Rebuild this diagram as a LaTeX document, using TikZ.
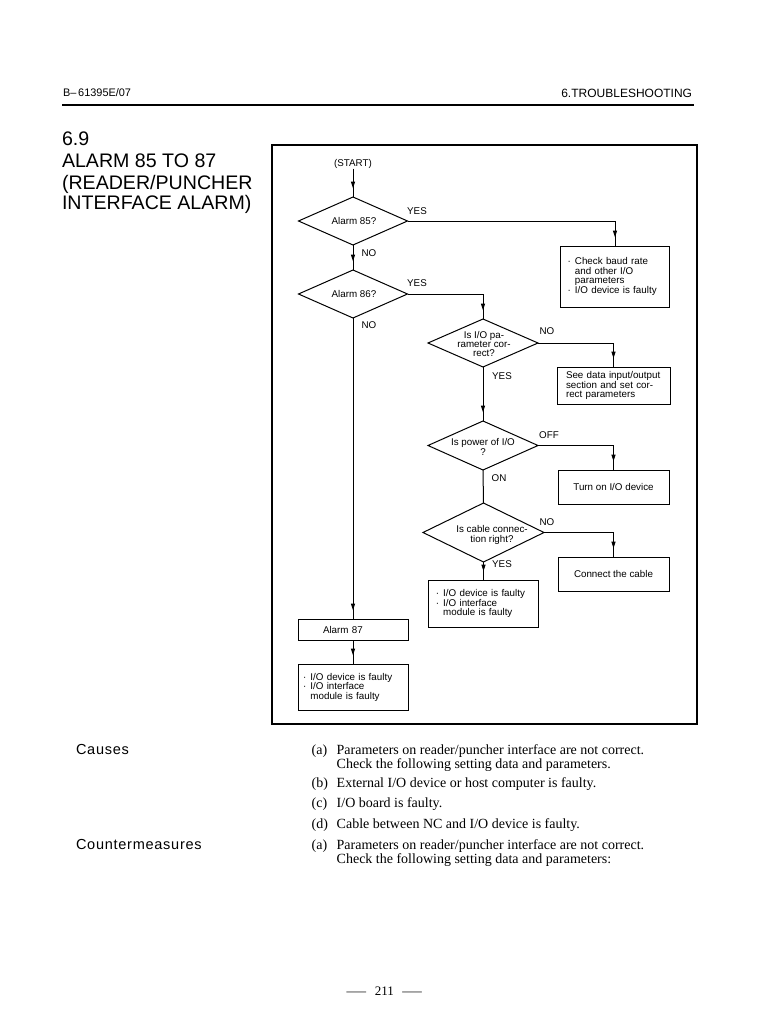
\documentclass[tikz,border=0pt]{standalone}
\usepackage{fontspec}
\setmainfont{Liberation Serif}
\newfontfamily\hv{Liberation Sans}
\newfontfamily\hvls[LetterSpace=5]{Liberation Sans}
\usetikzlibrary{arrows.meta,decorations.markings,shapes.geometric}
\newcommand{\bulx}{\makebox[5.6pt][l]{·}}
\newcommand{\indx}{\hspace*{5.6pt}}
\begin{document}
\begin{tikzpicture}[x=0.75pt,y=-0.75pt,
  every node/.style={inner sep=0pt, outer sep=0pt},
  dfont/.style={font=\hv\fontsize{7.35}{7.1}\selectfont},
  dia/.style={draw, shape=diamond, line width=0.75pt, inner sep=0pt},
  fbox/.style={draw, rectangle, line width=0.75pt, dfont},
  lab/.style={dfont},
  flow/.style={line width=0.75pt, postaction={decorate},
    decoration={markings, mark=at position -6.5pt with {\arrow{Triangle[length=5pt,width=3pt]}}}},
  plain/.style={line width=0.75pt},
  body/.style={anchor=base west, font=\fontsize{10.5}{12}\selectfont},
  side/.style={anchor=base west, font=\hvls\fontsize{10.9}{12}\selectfont},
  ttl/.style={anchor=base west, font=\hv\fontsize{14.7}{16}\selectfont}
]
\useasboundingbox[fill=white] (0,0) rectangle (768,1024);

% header
\node[anchor=base west, font=\hv\fontsize{8.2}{9}\selectfont] (hdl) at (63,97) {B–\,61395E/07};
\node[anchor=base east, font=\hv\fontsize{9}{10}\selectfont] (hdr) at (692,97.3) {6.TROUBLESHOOTING};
\draw[line width=1.5pt] (62,104.5) -- (694,104.5);

% title
\node[ttl] (t1) at (62,145.5) {6.9};
\node[ttl] (t2) at (62,167.5) {ALARM 85 TO 87};
\node[ttl] (t3) at (62,189) {(READER/PUNCHER};
\node[ttl] (t4) at (62,209.5) {INTERFACE ALARM)};

% frame
\draw[line width=0.8pt] (272,145) rectangle (697,724);

% flowchart nodes
\node[dfont] (start) at (353,164) {(START)};
\node[dia, minimum width=81.75pt, minimum height=36pt] (d1) at (353,221) {};
\node[dfont] (d1t) at (354,220.5) {Alarm 85?};
\node[dia, minimum width=81.75pt, minimum height=36pt] (d2) at (353,294) {};
\node[dfont] (d2t) at (354,294) {Alarm 86?};
\node[dia, minimum width=82.5pt, minimum height=36pt] (d3) at (483,343) {};
\node[dfont, align=center] (d3t) at (484,344) {Is I/O pa-\\rameter cor-\\rect?};
\node[dia, minimum width=82.5pt, minimum height=36.75pt] (d4) at (483,445.5) {};
\node[dfont, align=center] (d4t) at (483,447) {Is power of I/O\\?};
\node[dia, minimum width=90.75pt, minimum height=44.25pt] (d5) at (483.5,532.5) {};
\node[dfont, align=center] (d5t) at (492,535) {Is cable connec-\\tion right?};

\node[fbox, text width=71.25pt, inner xsep=5.25pt, minimum height=45.75pt, align=left] (b1) at (615,276.5)
  {\bulx Check baud rate\\\indx and other I/O\\\indx parameters\\\bulx I/O device is faulty};
\node[fbox, text width=71.25pt, inner xsep=6.75pt, minimum height=27.75pt, align=left] (b2) at (613.5,385.5)
  {See data input/output\\\makebox[\linewidth][s]{section and set cor-}\\rect parameters};
\node[fbox, minimum width=83.25pt, minimum height=25.5pt, align=center] (b3) at (613.5,487) {Turn on I/O device};
\node[fbox, minimum width=83.25pt, minimum height=25.5pt, align=center] (b4) at (613.5,574) {Connect the cable};
\node[fbox, text width=71.6pt, inner xsep=5.8pt, minimum height=35.25pt, align=left] (b5) at (483.5,603.5)
  {\bulx I/O device is faulty\\\bulx I/O interface\\\indx module is faulty};
\node[fbox, text width=45pt, inner xsep=18.75pt, minimum height=15.75pt, align=left] (a87) at (353,629.5) {Alarm 87};
\node[fbox, text width=75pt, inner xsep=3.75pt, minimum height=34.5pt, align=left] (b6) at (353,687)
  {\bulx I/O device is faulty\\\bulx I/O interface\\\indx module is faulty};

% labels
\node[lab] (y1) at (417,211) {YES};
\node[lab] (n1) at (369,253) {NO};
\node[lab] (y2) at (417,283) {YES};
\node[lab] (n2) at (369,325) {NO};
\node[lab] (n3) at (547,331) {NO};
\node[lab] (y3) at (502,376) {YES};
\node[lab] (o4) at (549,435) {OFF};
\node[lab] (on4) at (499,478) {ON};
\node[lab] (n5) at (547,522) {NO};
\node[lab] (y5) at (502,564) {YES};

% connectors
\draw[flow] (start.south) -- (d1.north);
\draw[flow] (d1.east) -| (b1.north);
\draw[flow] (d1.south) -- (d2.north);
\draw[flow] (d2.east) -| (d3.north);
\draw[flow] (d2.south) -- (a87.north);
\draw[flow] (d3.east) -| (b2.north);
\draw[flow] (d3.south) -- (d4.north);
\draw[flow] (d4.east) -| (b3.north);
\draw[plain] (d4.south) -- (d5.north);
\draw[flow] (d5.east) -| (b4.north);
\draw[flow] (d5.south) -- (b5.north);
\draw[flow] (a87.south) -- (b6.north);

% body text
\node[side] (causes) at (76,754.5) {Causes};
\node[body] (ca) at (311.7,754) {(a)};
\node[body] (ca1) at (336.7,754) {Parameters on reader/puncher interface are not correct.};
\node[body] (ca2) at (336.7,768) {Check the following setting data and parameters.};
\node[body] (cb) at (311.7,787.5) {(b)};
\node[body] (cb1) at (336.7,787.5) {External I/O device or host computer is faulty.};
\node[body] (cc) at (311.7,807.5) {(c)};
\node[body] (cc1) at (336.7,807.5) {I/O board is faulty.};
\node[body] (cd) at (311.7,828) {(d)};
\node[body] (cd1) at (336.7,828) {Cable between NC and I/O device is faulty.};
\node[side] (counter) at (76,849.5) {Countermeasures};
\node[body] (ma) at (311.7,849) {(a)};
\node[body] (ma1) at (336.7,849) {Parameters on reader/puncher interface are not correct.};
\node[body] (ma2) at (336.7,863) {Check the following setting data and parameters:};

% page number
\node[anchor=base, font=\fontsize{9.75}{11}\selectfont] (pg) at (384.3,995)
  {\scalebox{1.5}[1]{—}\hspace{6.5pt}211\hspace{6.5pt}\scalebox{1.5}[1]{—}};
\end{tikzpicture}
\end{document}
